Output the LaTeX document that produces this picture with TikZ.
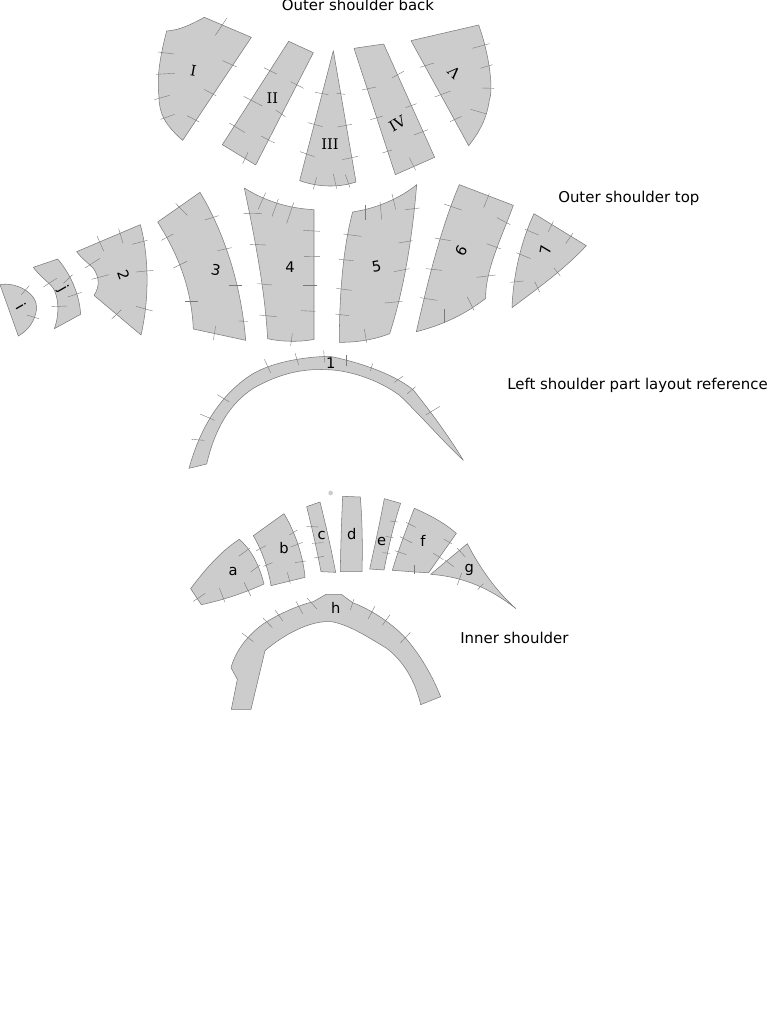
\documentclass[tikz,border=0pt]{standalone}
\usepackage{fontspec}
\setmainfont{DejaVu Sans}
\newfontfamily\romanfont{DejaVu Serif}
\definecolor{piecefill}{HTML}{CCCCCC}
\definecolor{pieceline}{HTML}{7A7A7A}
\tikzstyle{piece}=[draw=pieceline, fill=piecefill, line width=0.4pt, line join=round]
\tikzstyle{tick}=[draw=pieceline, line width=0.3pt]
\tikzstyle{part}=[inner sep=0pt, font=\fontsize{11}{13}\selectfont]
\tikzstyle{romanpart}=[part, font=\fontsize{11}{13}\selectfont\romanfont]
\tikzstyle{heading}=[inner sep=0pt, font=\fontsize{11.2}{13}\selectfont]
\newcommand{\tickmarks}[1]{\foreach \xa/\ya/\xb/\yb in {#1} \draw[tick] (\xa,\ya) -- (\xb,\yb);}

\begin{document}
\begin{tikzpicture}[x=0.75pt,y=-0.75pt]
\useasboundingbox (0,0) rectangle (768,1024);

\begin{scope}[shift={(140,0)},scale=1/3]
\draw[piece] (193,52) -- (334,112) -- (128,421) .. controls (75,375) and (57,340) .. (57,290) .. controls (50,230) and (60,170) .. (80,93) .. controls (120,90) and (150,75) .. (193,52) -- cycle;
\tickmarks{260/55/226/106, 248/182/290/201, 192/268/228/287, 141/347/178/366, 54/156/102/162, 48/223/104/220, 43/299/89/286, 62/358/104/343}
\node[romanpart,rotate=-10] (partI) at (160,213) {I};

\draw[piece] (446,124) -- (520,158) -- (347,495) -- (247,434) -- cycle;
\tickmarks{372/203/410/222, 452/245/491/265, 311/289/367/318, 407/330/436/350, 268/369/315/398, 363/408/404/429, 324/457/308/491}
\node[romanpart] (partII) at (397,295) {II};

\draw[piece] (580,152) -- (648,546) .. controls (590,565) and (530,560) .. (479,542) -- cycle;
\tickmarks{525/277/565/284, 590/280/615/283, 504/368/548/380, 592/381/636/373, 480/455/524/470, 607/479/654/469, 530/532/520/568, 580/522/590/566, 616/524/630/563}
\node[romanpart] (partIII) at (570,433) {III};

\draw[piece] (642,145) -- (731,132) -- (884,472) -- (766,524) -- cycle;
\tickmarks{757/233/791/214, 666/270/708/261, 797/323/830/311, 691/359/729/348, 822/405/864/389, 727/459/756/450, 808/473/827/511}
\node[romanpart,rotate=30] (partIV) at (772,372) {IV};

\draw[piece] (813,122) -- (1016,75) .. controls (1050,170) and (1060,270) .. (1048,300) .. controls (1040,360) and (1015,400) .. (986,437) -- cycle;
\tickmarks{997/145/1048/131, 1021/205/1058/194, 1024/264/1062/265, 992/328/1040/342, 840/202/882/189, 884/291/932/273, 930/365/965/349}
\node[romanpart,rotate=135] (partV) at (942,218) {V};
\end{scope}

\begin{scope}[shift={(0,180)},scale=1/3]
\draw[piece] (0,314) .. controls (50,305) and (112,340) .. (110,385) .. controls (105,425) and (85,450) .. (55,468) -- cycle;
\tickmarks{88/317/64/344, 80/405/117/416}
\node[part,rotate=-60] (parti) at (63,378) {i};

\draw[piece] (100,262) -- (173,237) .. controls (210,280) and (238,340) .. (242,403) -- (163,446) .. controls (180,400) and (175,350) .. (160,325) .. controls (145,305) and (120,290) .. (100,262) -- cycle;
\tickmarks{130/321/170/295, 190/310/218/284, 203/351/245/337, 155/380/202/378}
\node[part,rotate=-60] (partj) at (190,327) {j};

\draw[piece] (230,215) -- (421,134) .. controls (445,220) and (450,350) .. (423,465) -- (282,346) .. controls (300,320) and (298,290) .. (280,265) .. controls (265,250) and (245,235) .. (230,215) -- cycle;
\tickmarks{291/168/311/213, 356/146/369/190, 396/193/442/181, 408/276/460/271, 408/379/458/393, 335/417/364/389, 255/264/300/235, 275/298/327/284}
\node[part,rotate=-70] (part2) at (371,285) {2};

\draw[piece] (473,126) -- (600,37) .. controls (680,170) and (725,330) .. (737,481) -- (580,447) .. controls (575,340) and (545,240) .. (473,126) -- cycle;
\tickmarks{527/70/562/106, 614/120/656/107, 653/212/695/203, 687/317/726/317, 715/423/743/424, 647/438/640/480, 484/181/520/162, 520/264/561/244, 555/363/593/363}
\node[part,rotate=-10] (part3) at (648,270) {3};

\draw[piece] (733,24) .. controls (790,60) and (860,85) .. (942,89) -- (942,478) .. controls (900,487) and (840,485) .. (803,476) .. controls (795,340) and (770,200) .. (733,24) -- cycle;
\tickmarks{797/38/775/87, 835/57/816/110, 881/68/860/130, 731/101/785/100, 750/193/798/195, 772/311/817/315, 778/405/830/410, 910/151/960/154, 912/230/960/229, 908/317/952/317, 903/392/946/394, 877/460/872/498}
\node[part] (part4) at (870,262) {4};
\end{scope}

\begin{scope}[shift={(300,180)},scale=1/3]
\draw[piece] (158,96) .. controls (230,85) and (300,55) .. (350,14) .. controls (335,200) and (305,350) .. (269,461) .. controls (220,480) and (170,487) .. (118,487) .. controls (118,340) and (130,200) .. (158,96) -- cycle;
\tickmarks{197/74/197/121, 240/65/245/118, 276/42/287/88, 316/89/359/84, 295/189/337/182, 282/275/328/266, 254/369/307/364, 130/162/184/169, 117/238/160/242, 109/325/155/331, 106/402/147/407, 193/447/200/488}
\node[part,rotate=10] (part5) at (230,260) {5};

\draw[piece] (478,14) -- (640,76) .. controls (610,160) and (555,270) .. (557,355) .. controls (500,400) and (430,435) .. (349,455) .. controls (380,320) and (420,150) .. (478,14) -- cycle;
\tickmarks{568/41/551/83, 591/113/631/134, 560/191/603/207, 530/292/587/285, 502/351/522/391, 433/388/433/430, 432/72/485/90, 404/174/452/182, 378/266/426/271, 360/353/412/361}
\node[part,rotate=60] (part6) at (483,212) {6};

\draw[piece] (702,101) -- (859,197) .. controls (790,270) and (720,320) .. (636,383) .. controls (640,280) and (665,180) .. (702,101) -- cycle;
\tickmarks{760/124/745/155, 819/159/797/191, 675/148/716/165, 649/218/692/236, 631/307/671/303, 704/305/719/336, 762/264/781/288}
\node[part,rotate=80] (part7) at (736,211) {7};
\end{scope}

\begin{scope}[shift={(180,345)},scale=1/3]
\draw[piece] (27,370) .. controls (55,270) and (105,165) .. (205,95) .. controls (265,53) and (370,35) .. (450,34) .. controls (530,50) and (640,85) .. (700,135) .. controls (760,210) and (810,280) .. (850,346) .. controls (790,290) and (730,220) .. (660,152) .. controls (590,100) and (500,75) .. (440,74) .. controls (360,70) and (290,90) .. (220,130) .. controls (150,175) and (105,250) .. (80,357) -- cycle;
\tickmarks{35/283/73/286, 60/207/104/226, 112/149/148/171, 253/43/272/83, 345/24/356/60, 431/17/434/52, 499/30/499/64, 578/56/571/78, 668/94/643/112, 707/125/682/146, 780/184/737/210}
\node[part] (part1) at (452,55) {1};
\end{scope}

\begin{scope}[shift={(180,485)},scale=1/3]
\draw[piece] (178,163) .. controls (220,200) and (240,250) .. (252,297) .. controls (190,325) and (130,345) .. (64,359) -- (32,311) .. controls (70,260) and (120,200) .. (178,163) -- cycle;
\tickmarks{210/189/176/214, 240/240/212/261, 192/292/212/332, 118/309/135/352, 76/325/40/349}
\node[part] (parta) at (159,259) {a};

\draw[piece] (220,152) -- (312,86) .. controls (350,150) and (370,220) .. (375,277) -- (273,302) .. controls (265,250) and (245,195) .. (220,152) -- cycle;
\tickmarks{229/197/257/182, 250/244/277/233, 352/135/328/150, 332/186/368/172, 345/233/378/228, 322/262/331/296}
\node[part] (partb) at (312,190) {b};

\draw[piece] (380,65) -- (420,51) .. controls (440,130) and (455,200) .. (467,262) -- (423,260) .. controls (410,190) and (395,125) .. (380,65) -- cycle;
\tickmarks{380/124/416/126, 396/175/430/173, 402/219/432/214}
\node[part] (partc) at (425,152) {c};

\draw[piece] (488,34) -- (541,36) .. controls (547,110) and (548,190) .. (546,260) -- (481,260) .. controls (482,180) and (485,100) .. (488,34) -- cycle;
\node[part] (partd) at (515,148) {d};

\draw[piece] (613,41) -- (662,55) .. controls (640,120) and (625,190) .. (612,255) -- (569,252) .. controls (585,180) and (600,110) .. (613,41) -- cycle;
\tickmarks{630/108/653/111, 617/154/640/158, 608/203/630/205}
\node[part] (parte) at (605,170) {e};

\draw[piece] (703,70) .. controls (750,90) and (795,115) .. (829,145) -- (746,263) .. controls (710,262) and (670,258) .. (637,256) .. controls (655,195) and (680,130) .. (703,70) -- cycle;
\tickmarks{678/112/707/127, 660/155/697/174, 645/197/679/209, 791/162/815/176, 760/205/790/224, 703/240/703/268}
\node[part] (partf) at (729,168) {f};

\draw[piece] (862,176) .. controls (900,250) and (950,320) .. (1008,371) .. controls (930,310) and (850,275) .. (752,268) -- cycle;
\tickmarks{832/190/856/216, 796/226/821/245, 845/264/832/300, 910/296/893/314}
\node[part] (partg) at (868,254) {g};

\fill[piecefill] (452,24) circle (7);
\end{scope}

\begin{scope}[shift={(220,590)},scale=1/3]
\draw[piece] (33,233) .. controls (50,170) and (100,120) .. (140,95) .. controls (190,65) and (240,45) .. (280,35) -- (318,13) -- (364,13) -- (398,38) .. controls (470,65) and (540,120) .. (570,160) .. controls (610,210) and (640,265) .. (662,320) -- (602,344) .. controls (590,290) and (560,220) .. (500,175) .. controls (450,145) and (390,105) .. (335,95) .. controls (270,90) and (190,135) .. (135,182) -- (93,358) -- (34,358) -- (52,268) -- cycle;
\tickmarks{67/130/100/155, 130/85/157/113, 165/60/188/92, 228/34/248/71, 262/25/291/57, 402/27/391/60, 465/48/445/86, 510/74/487/106, 571/127/541/159}
\node[part] (parth) at (347,53) {h};
\end{scope}

\node[heading] (titleback) at (358,5) {Outer shoulder back};
\node[heading,anchor=west] (titletop) at (558,198) {Outer shoulder top};
\node[heading,anchor=west] (titleref) at (507,385) {Left shoulder part layout reference};
\node[heading,anchor=west] (titleinner) at (460,638) {Inner shoulder};

\end{tikzpicture}
\end{document}
